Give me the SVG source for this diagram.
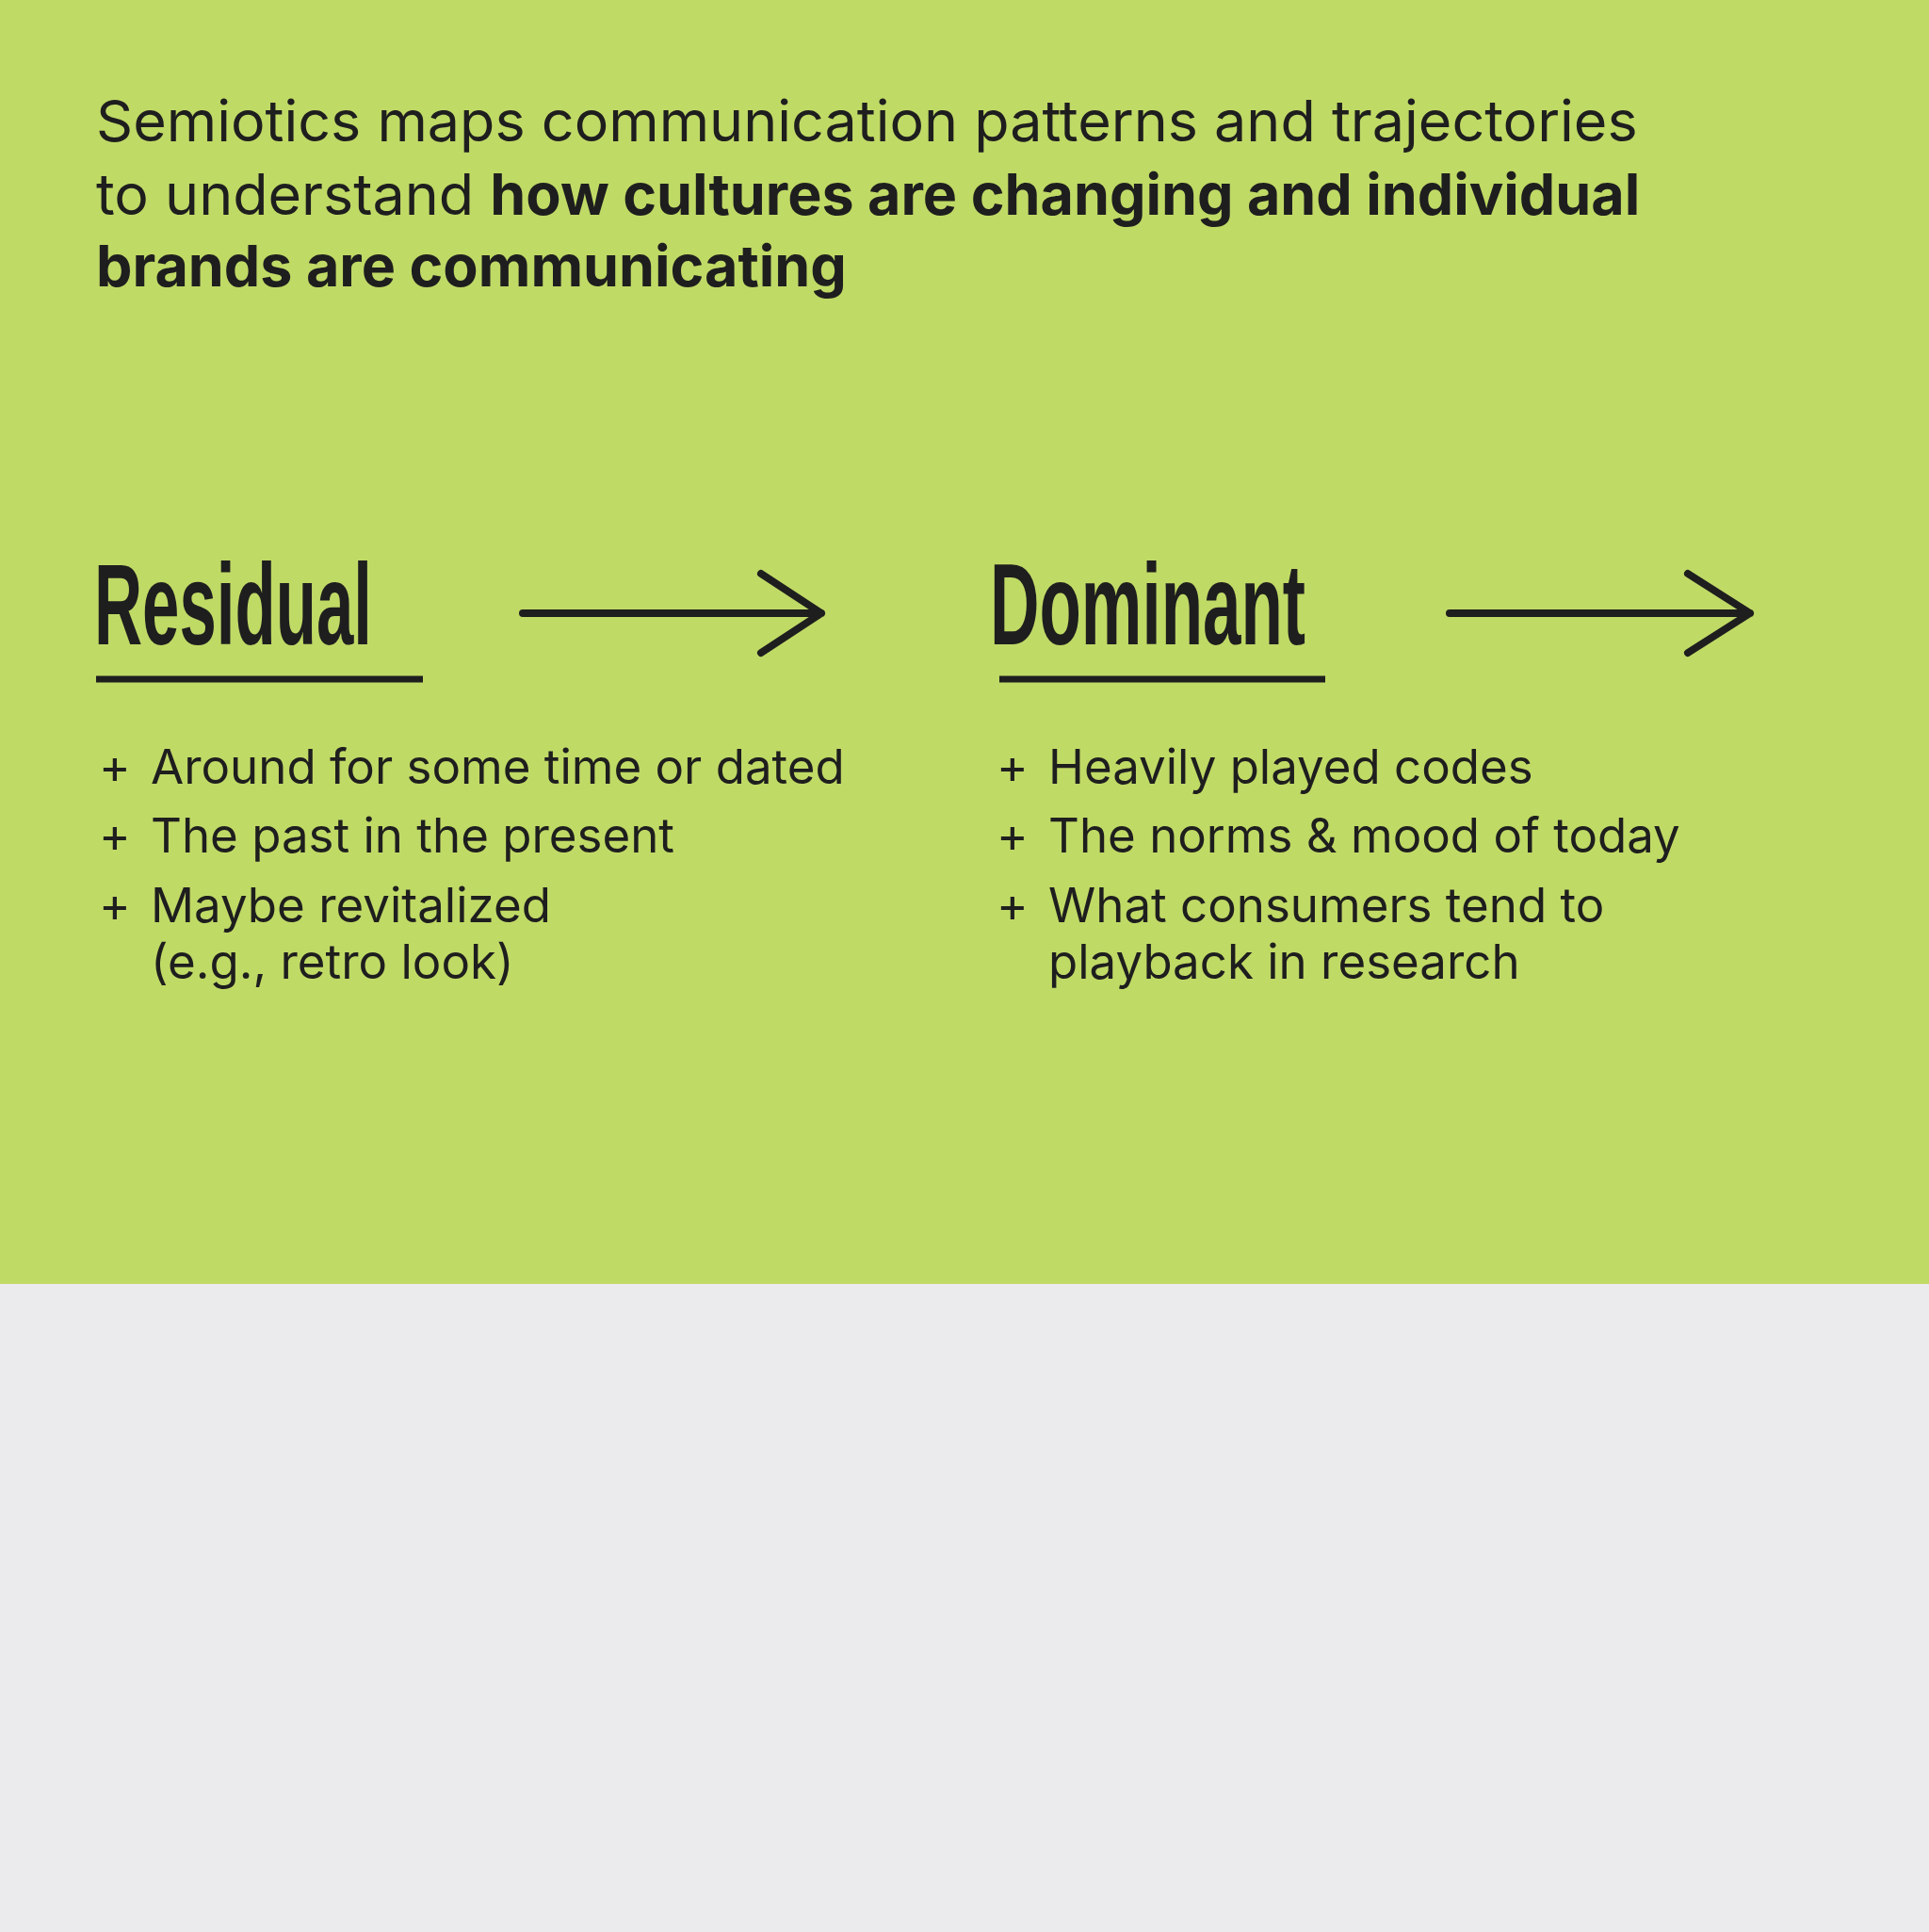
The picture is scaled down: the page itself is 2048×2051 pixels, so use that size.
<svg xmlns="http://www.w3.org/2000/svg" width="2048" height="2051" viewBox="0 0 2048 2051">
<style>
.h{font-family:"Inter","Liberation Sans",sans-serif;font-size:61px;fill:#1e1e1e}
.b{font-weight:700}
.t{font-family:"Liberation Sans",sans-serif;font-weight:700;font-size:122px;fill:#1e1e1e}
.l{font-family:"Inter","Liberation Sans",sans-serif;font-size:51px;fill:#1e1e1e}
.s{stroke:#1e1e1e;stroke-width:7;fill:none}
.a{stroke:#1e1e1e;stroke-width:8;fill:none;stroke-linecap:round;stroke-linejoin:round}
</style>
<rect width="2048" height="2051" fill="#ebeaed"/>
<rect width="2048" height="1363" fill="#c0da66"/>
<g id="heading">
<text class="h" x="102" y="150">Semiotics maps communication patterns and trajectories</text>
<text class="h" x="102" y="228">to understand <tspan class="b">how cultures are changing and individual</tspan></text>
<text class="h b" x="102" y="304">brands are communicating</text>
</g>
<g id="residual">
<text class="t" x="100" y="684" textLength="295" lengthAdjust="spacingAndGlyphs">Residual</text>
<line class="s" x1="102" y1="721" x2="449" y2="721"/>
<text class="l" x="105" y="832">+ </text><text class="l" x="160" y="832">Around for some time or dated</text>
<text class="l" x="105" y="905">+ </text><text class="l" x="160" y="905">The past in the present</text>
<text class="l" x="105" y="979">+ </text><text class="l" x="160" y="979">Maybe revitalized</text>
<text class="l" x="160" y="1039">(e.g., retro look)</text>
</g>
<g id="dominant">
<text class="t" x="1051" y="684" textLength="335" lengthAdjust="spacingAndGlyphs">Dominant</text>
<line class="s" x1="1061" y1="721" x2="1407" y2="721"/>
<text class="l" x="1058" y="832">+ </text><text class="l" x="1113" y="832">Heavily played codes</text>
<text class="l" x="1058" y="905">+ </text><text class="l" x="1113" y="905">The norms &amp; mood of today</text>
<text class="l" x="1058" y="979">+ </text><text class="l" x="1113" y="979">What consumers tend to</text>
<text class="l" x="1113" y="1039">playback in research</text>
</g>
<g id="connectors">
<path class="a" d="M555 651H872M808 609L872 651L808 693"/>
<path class="a" d="M1539 651H1858M1792 609L1858 651L1792 693"/>
</g>
</svg>
